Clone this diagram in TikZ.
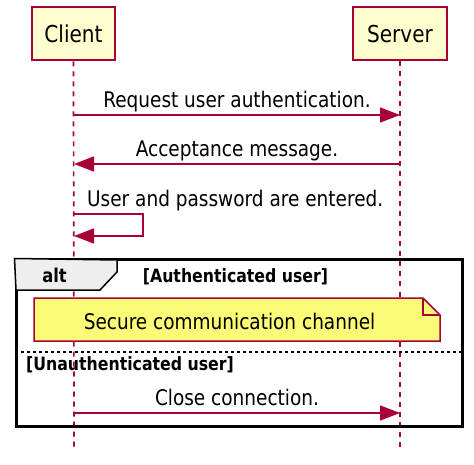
\documentclass[tikz,border=0pt]{standalone}
\usepackage{fontspec}
\setmainfont[FakeStretch=0.86]{DejaVu Sans}
\usetikzlibrary{arrows.meta}
\definecolor{umlred}{HTML}{A80036}
\definecolor{partfill}{HTML}{FEFECE}
\definecolor{notefill}{HTML}{FBFB77}
\definecolor{tabfill}{HTML}{EEEEEE}
\tikzset{
  part/.style={draw=umlred, fill=partfill, line width=2pt, minimum height=53pt, inner sep=0pt, font=\fontsize{23.3}{28}\selectfont},
  lifeline/.style={draw=umlred, line width=1.7pt, dash pattern=on 5pt off 5pt},
  msg/.style={draw=umlred, line width=1.5pt, -{Triangle[length=20pt,width=15pt]}},
  msgtext/.style={font=\fontsize{21.5}{26}\selectfont, inner sep=0pt, anchor=base},
  guardtext/.style={font=\bfseries\fontsize{18.3}{22}\selectfont, inner sep=0pt, anchor=base},
}
\begin{document}
\begin{tikzpicture}[x=1pt,y=-1pt]
\useasboundingbox (0,0) rectangle (474,465);
% participants
\node[part, minimum width=83pt, text depth=0pt, text height=17pt] (client) at (73.5,34) {Client};
\node[part, minimum width=94pt, text depth=0pt, text height=17pt] (server) at (400,34) {Server};
\coordinate (clientend) at (74,447);
\coordinate (serverend) at (400,447);
\draw[lifeline] (client.south) -- (clientend);
\draw[lifeline] (server.south) -- (serverend);
% messages
\coordinate (c1) at (74,115); \coordinate (s1) at (400,115);
\draw[msg] (c1) -- node[msgtext, yshift=7.7pt] (m1) {Request user authentication.} (s1);
\coordinate (c2) at (74,164); \coordinate (s2) at (400,164);
\draw[msg] (s2) -- node[msgtext, yshift=7.5pt] (m2) {Acceptance message.} (c2);
\coordinate (c3) at (74,214); \coordinate (c3b) at (74,236);
\node[msgtext, anchor=base west] (m3) at (87,206.7) {User and password are entered.};
\draw[msg] (c3) -- (143,214) -- (143,236) -- (c3b);
% alt frame
\node[draw=black, line width=3pt, minimum width=446pt, minimum height=166pt, inner sep=0pt] (frame) at (239,343) {};
\filldraw[draw=black, fill=tabfill, line width=1.5pt] (frame.north west) -- (117,260) -- (117,272) -- (100,290) -- (16,290) -- cycle;
\node[font=\bfseries\fontsize{19}{22}\selectfont, inner sep=0pt, anchor=base] (alt) at (54.5,283) {alt};
\node[guardtext] (g1) at (235.5,283) {[Authenticated user]};
% note
\filldraw[draw=umlred, fill=notefill, line width=1.5pt] (34,298) -- (423,298) -- (440,315) -- (440,341) -- (34,341) -- cycle;
\draw[draw=umlred, line width=1.5pt] (423,298) -- (423,315) -- (440,315);
\node[msgtext] (note) at (229.5,329) {Secure communication channel};
% separator
\draw[black, line width=1.4pt, dash pattern=on 3pt off 3pt] (frame.west |- 0,352) -- (frame.east |- 0,352);
\node[guardtext, anchor=base west] (g2) at (26,370) {[Unauthenticated user]};
% close
\coordinate (c4) at (74,413); \coordinate (s4) at (400,413);
\draw[msg] (c4) -- node[msgtext, yshift=8pt] (m4) {Close connection.} (s4);
\end{tikzpicture}
\end{document}
